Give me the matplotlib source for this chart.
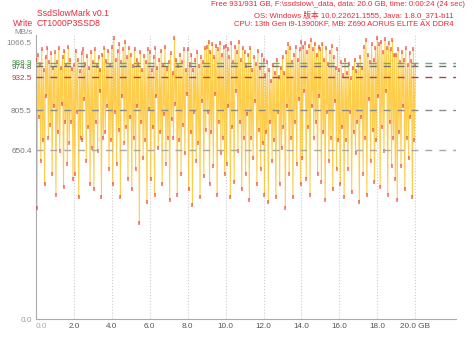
import numpy as np
import matplotlib
matplotlib.use("Agg")
import matplotlib.pyplot as plt

plt.rcParams['font.family'] = ['Liberation Sans', 'Noto Sans CJK SC', 'DejaVu Sans']

# write speed samples (MB/s), one every 0.05 GB, 0..20 GB
write_mbs = [
    1000, 430, 1020, 780, 985, 610, 1040, 690, 960, 520, 1010, 860, 1045, 700, 990, 750, 1025, 560, 970, 820,
    1030, 480, 990, 720, 1045, 650, 970, 830, 1010, 510, 1035, 760, 980, 600, 1050, 680, 1000, 760, 965, 540,
    980, 560, 1035, 800, 1000, 470, 955, 700, 1025, 690, 1040, 850, 985, 610, 1015, 740, 970, 520, 1030, 660,
    990, 500, 1040, 760, 975, 650, 1010, 880, 960, 470, 1020, 700, 1045, 720, 995, 820, 1035, 580, 980, 690,
    1050, 520, 1085, 800, 1000, 600, 1035, 730, 1060, 470, 990, 860, 1040, 680, 1070, 740, 1010, 540, 1045, 780,
    1020, 500, 975, 700, 1040, 580, 1000, 820, 985, 370, 1030, 760, 960, 620, 1015, 690, 990, 450, 1040, 810,
    1030, 540, 960, 740, 1010, 480, 1045, 860, 970, 660, 1000, 720, 1035, 520, 980, 790, 1050, 600, 965, 700,
    990, 460, 1025, 770, 950, 700, 1085, 830, 1000, 480, 975, 690, 1020, 560, 990, 750, 1040, 640, 960, 870,
    1040, 500, 985, 720, 1020, 440, 960, 800, 1000, 610, 1030, 680, 975, 470, 1010, 840, 990, 550, 1045, 730,
    1050, 800, 1070, 520, 1030, 720, 1060, 590, 1010, 870, 1055, 480, 1040, 760, 1065, 640, 1020, 700, 1050, 560,
    1055, 600, 1040, 820, 1010, 470, 1065, 740, 990, 530, 1050, 880, 1030, 650, 1070, 760, 1000, 500, 1045, 700,
    1030, 560, 975, 790, 1020, 460, 1045, 700, 960, 620, 1010, 840, 985, 520, 1035, 730, 970, 580, 1020, 680,
    1000, 480, 940, 720, 990, 450, 960, 760, 920, 610, 980, 690, 950, 470, 1000, 800, 935, 520, 970, 660,
    1010, 740, 950, 430, 1030, 820, 1060, 560, 1045, 700, 990, 470, 1020, 760, 1050, 600, 1000, 850, 1040, 520,
    1070, 620, 1050, 880, 1065, 540, 1030, 740, 1055, 480, 1075, 820, 1040, 700, 1060, 760, 1020, 560, 1050, 860,
    1040, 530, 1060, 720, 1000, 460, 1045, 800, 985, 610, 1030, 700, 1055, 500, 1010, 840, 970, 580, 1040, 690,
    960, 520, 990, 740, 940, 470, 1000, 690, 950, 580, 985, 800, 930, 490, 970, 720, 1000, 640, 955, 760,
    980, 450, 1010, 780, 970, 560, 1050, 700, 1075, 480, 1020, 850, 990, 610, 1060, 730, 1000, 530, 1045, 690,
    1085, 860, 1060, 510, 1070, 740, 1030, 650, 1080, 880, 1045, 480, 1065, 760, 1040, 590, 1075, 700, 1020, 540,
    1020, 460, 1040, 720, 990, 590, 1030, 820, 1000, 500, 1045, 700, 980, 620, 1025, 780, 995, 470, 1040, 690,
    980,
]
data_gb = 20.0

ref_levels = [988.9, 974.8, 932.5, 805.5, 650.4]
ref_colors = ['#5cb85c', '#707070', '#b0404a', '#8a8a8a', '#a8a8a8']

ytick_vals = [0.0, 650.4, 805.5, 932.5, 974.8, 988.9, 1066.5]
ytick_colors = ['#9a9a9a', '#777777', '#777777', '#d03040', '#555555', '#3aa03a', '#888888']
xtick_vals = [0, 2, 4, 6, 8, 10, 12, 14, 16, 18, 20]
xtick_labels = ['0.0', '2.0', '4.0', '6.0', '8.0', '10.0', '12.0', '14.0', '16.0', '18.0', '20.0 GB']

info_lines = [
    'Free 931/931 GB, F:\\ssdslow\\_data, data: 20.0 GB, time: 0:00:24 (24 sec)',
    'OS: Windows 版本 10.0.22621.1555, Java: 1.8.0_371-b11',
    'CPU: 13th Gen i9-13900KF, MB: Z690 AORUS ELITE AX DDR4',
]

fig = plt.figure(figsize=(4.74, 3.55), dpi=100)
ax = fig.add_axes([0.076, 0.101, 0.886, 0.8])

x = np.linspace(0, data_gb, len(write_mbs))
ax.plot(x, write_mbs, color='#ffb800', lw=0.75, alpha=0.7, zorder=2)
ax.plot(x, write_mbs, ls='none', marker='|', ms=3.5, mew=1.2, color='#e81e28', alpha=0.6, zorder=3)

for lvl, c in zip(ref_levels, ref_colors):
    ax.axhline(lvl, color=c, lw=1, ls=(0, (5, 5)), zorder=4)

for g in xtick_vals[1:]:
    ax.axvline(g, color='#cccccc', lw=0.8, ls=':', zorder=1)

ax.set_xlim(0, 22.15)
ax.set_ylim(0, 1095)

for s in ['top', 'right']:
    ax.spines[s].set_visible(False)
for s in ['left', 'bottom']:
    ax.spines[s].set_color('#aaaaaa')

fs = 5.9
ax.set_xticks(xtick_vals)
ax.set_xticklabels(xtick_labels, fontsize=fs, color='#555555')
ax.get_xticklabels()[0].set_color('#aaaaaa')
ax.get_xticklabels()[0].set_ha('left')
ax.set_yticks(ytick_vals)
ax.set_yticklabels(['%.1f' % v for v in ytick_vals], fontsize=fs)
for lab, c in zip(ax.get_yticklabels(), ytick_colors):
    lab.set_color(c)
ax.tick_params(length=0, pad=3)

red = '#e82838'
fig.text(37 / 474, 1 - 14 / 355, 'SsdSlowMark v0.1', color=red, fontsize=6.2, va='center')
fig.text(33 / 474, 1 - 24 / 355, 'Write', color=red, fontsize=6.2, va='center', ha='right')
fig.text(37 / 474, 1 - 24 / 355, 'CT1000P3SSD8', color=red, fontsize=6.2, va='center')
fig.text(33 / 474, 1 - 33 / 355, 'MB/s', color='#888888', fontsize=fs, va='center', ha='right')

fig.text(465 / 474, 1 - 5 / 355, info_lines[0], color=red, fontsize=5.6, va='center', ha='right')
fig.text(454 / 474, 1 - 14.5 / 355, info_lines[1], color=red, fontsize=5.6, va='center', ha='right')
fig.text(454 / 474, 1 - 24 / 355, info_lines[2], color=red, fontsize=5.6, va='center', ha='right')

fig.savefig('out.png', dpi=100)
